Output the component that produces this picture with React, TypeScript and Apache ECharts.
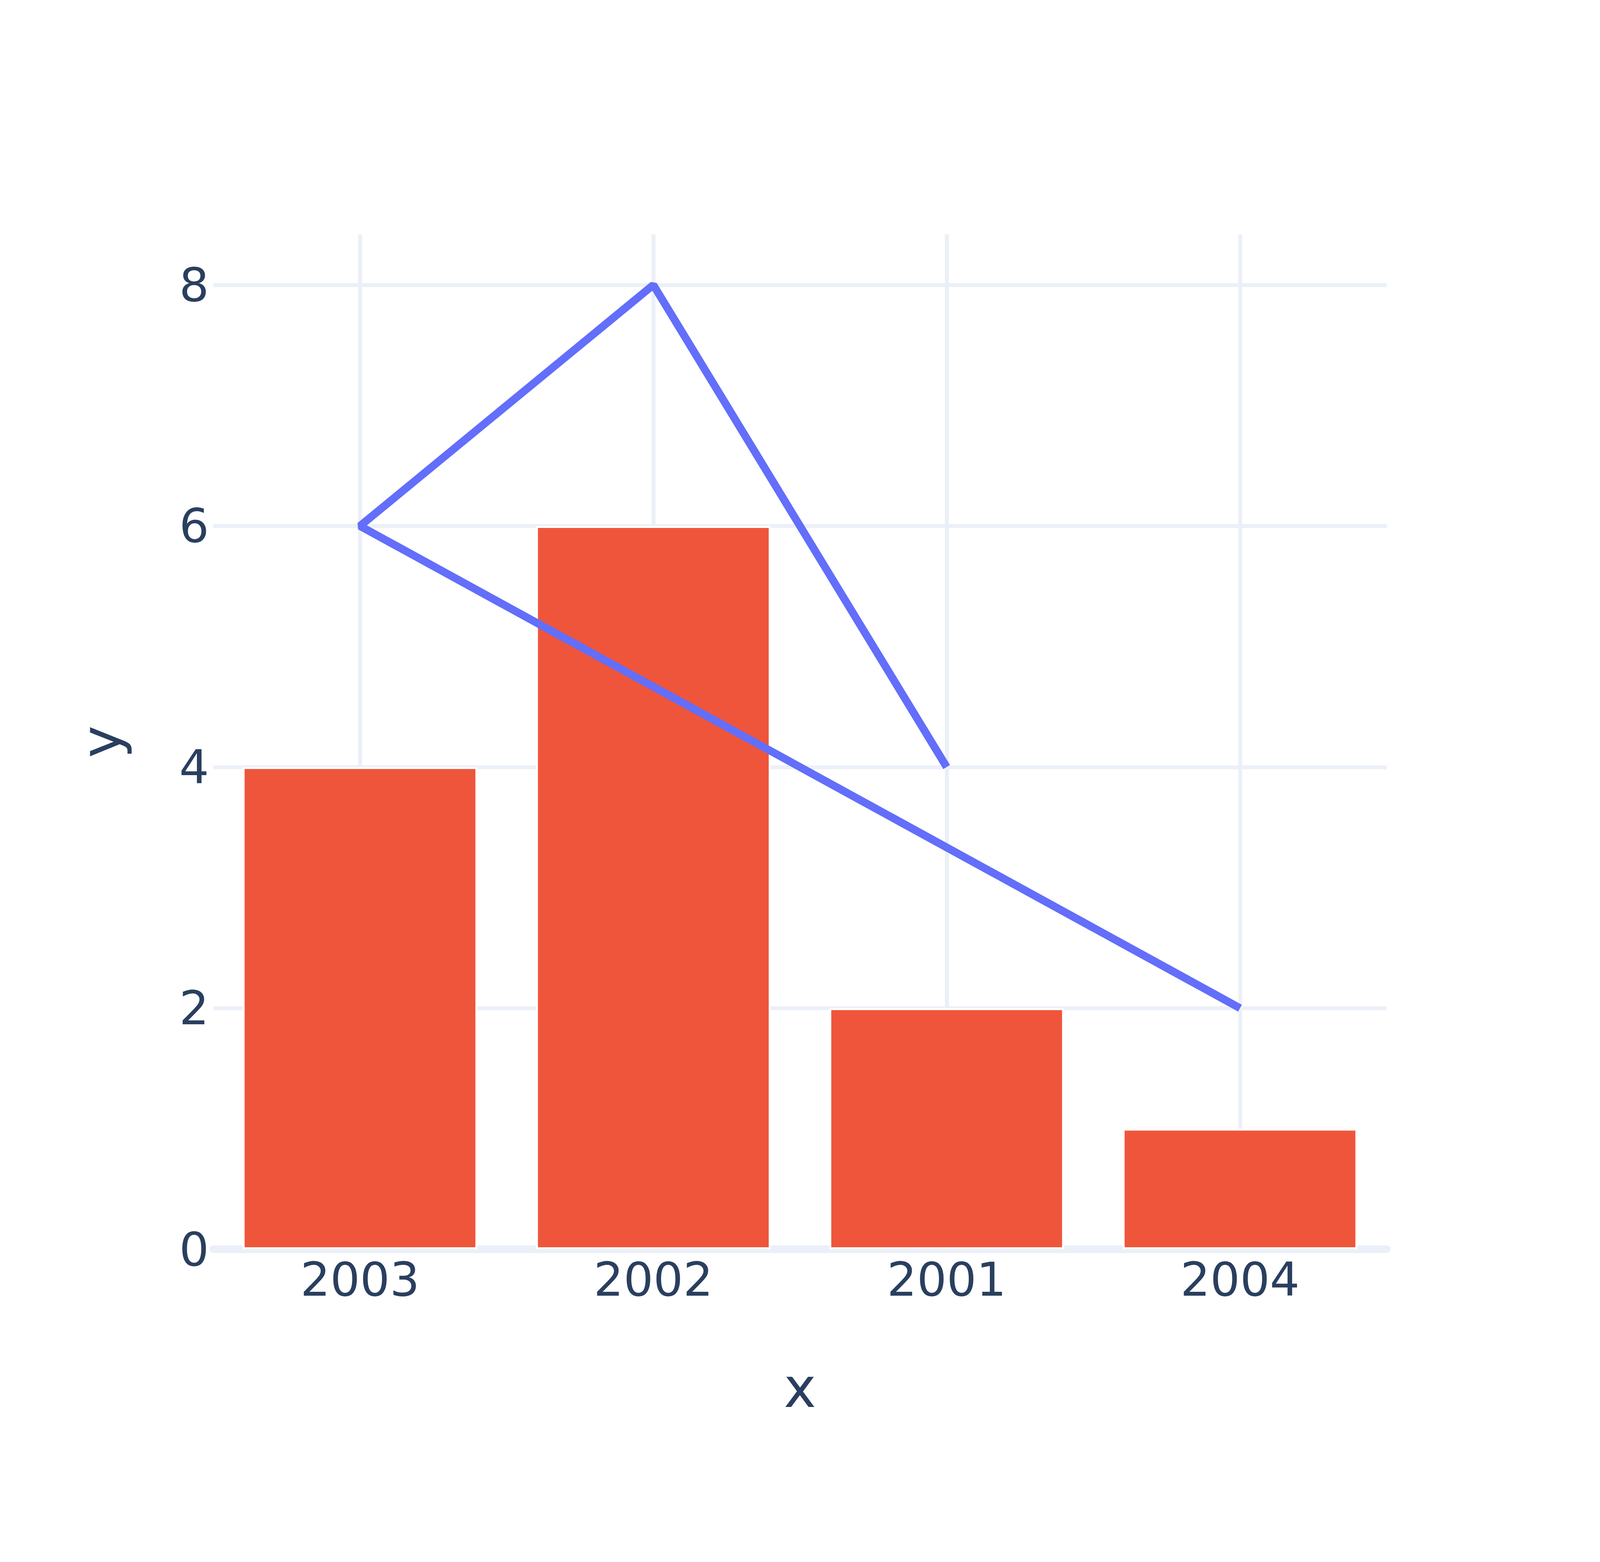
import React, { useEffect, useRef } from 'react';
import * as echarts from 'echarts';

// Category order on the x axis comes from the bar trace
const categories = ['2003', '2002', '2001', '2004'];
const barValues = [4, 6, 2, 1];

// The line trace is drawn in its own data order
const lineX = ['2001', '2002', '2003', '2004'];
const lineY = [4, 8, 6, 2];

const yTicks = [0, 2, 4, 6, 8];

const FONT = '"DejaVu Sans", verdana, arial, sans-serif';
const TEXT = '#2a3f5f';
const GRID = '#EBF0F8';

// Layout is designed on a 6000x4000 canvas and scaled to the real viewport
function buildOption(sx: number, sy: number): echarts.EChartsCoreOption {
  return {
    animation: false,
    backgroundColor: '#ffffff',
    grid: { left: 800 * sx, right: 800 * sx, top: 600 * sy, bottom: 801 * sy, containLabel: false },
    xAxis: {
      type: 'category',
      data: categories,
      boundaryGap: true,
      name: 'x',
      nameLocation: 'middle',
      nameGap: 285 * sy,
      nameTextStyle: { fontFamily: FONT, fontSize: 140 * sy, color: TEXT },
      axisLine: { show: true, lineStyle: { color: GRID, width: 20 * sy } },
      axisTick: { show: false },
      axisLabel: { fontFamily: FONT, fontSize: 120 * sy, color: TEXT, margin: 17 * sy },
      splitLine: { show: true, alignWithLabel: true, lineStyle: { color: GRID, width: 10 * sy } },
    },
    yAxis: {
      type: 'value',
      min: yTicks[0],
      max: 8.42,
      interval: 2,
      name: 'y',
      nameLocation: 'middle',
      nameGap: 318 * sx,
      nameTextStyle: { fontFamily: FONT, fontSize: 140 * sy, color: TEXT },
      axisLine: { show: false },
      axisTick: { show: false },
      axisLabel: { fontFamily: FONT, fontSize: 120 * sy, color: TEXT, margin: 16 * sx, showMaxLabel: false },
      splitLine: {
        show: true,
        showMinLine: false,
        showMaxLine: false,
        lineStyle: { color: GRID, width: 10 * sy },
      },
    },
    series: [
      {
        type: 'bar',
        data: barValues,
        barCategoryGap: '20%',
        itemStyle: { color: '#EF553B', borderColor: '#ffffff', borderWidth: 5 * sy },
      },
      {
        type: 'line',
        data: lineX.map((x, i) => [x, lineY[i]]),
        symbol: 'none',
        lineStyle: { color: '#636efa', width: 20 * sy },
      },
    ],
  };
}

export default function App() {
  const ref = useRef<HTMLDivElement>(null);
  document.body.style.margin = '0';
  const width = Math.min(window.innerWidth || 6000, 6000);
  const height = Math.min(window.innerHeight || 4000, 4000);
  const sx = width / 6000;
  const sy = height / 4000;

  useEffect(() => {
    if (!ref.current) return;
    const chart = echarts.init(ref.current, null, { renderer: 'svg' });
    chart.setOption(buildOption(sx, sy));
    return () => {
      chart.dispose();
    };
  }, [sx, sy]);

  return <div ref={ref} style={{ width, height, background: '#fff' }} />;
}
